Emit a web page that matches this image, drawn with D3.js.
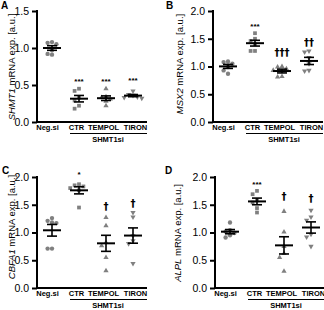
<!DOCTYPE html>
<html><head><meta charset="utf-8">
<script src="https://cdn.jsdelivr.net/npm/d3@7"></script>
<style>body{margin:0;background:#fff}svg{display:block}</style>
</head><body>
<svg id="chart" width="324" height="310"></svg>
<script>
// ---------- data ----------
const categories = ["Neg.si", "CTR", "TEMPOL", "TIRON"];
const groupLabel = "SHMT1si";
const panelLetters = ["A", "B", "C", "D"];
const genes = ["SHMT1", "MSX2", "CBFA1", "ALPL"];
const yTitleSuffix = " mRNA exp. [a.u.]";
const yTicksA = [0, 0.5, 1.0, 1.5];
const yTickLabelsA = ["0.0", "0.5", "1.0", "1.5"];
const yTicksBCD = [0, 0.5, 1.0, 1.5, 2.0];
const yTickLabelsBCD = ["0.0", "0.5", "1.0", "1.5", "2.0"];

const shmt1Values = [
  [1.08, 1.07, 1.05, 0.97, 0.92, 0.91],
  [0.45, 0.42, 0.33, 0.29, 0.22, 0.18],
  [0.45, 0.34, 0.33, 0.31, 0.28, 0.22],
  [0.42, 0.37, 0.36, 0.34, 0.33, 0.32]
];
const msx2Values = [
  [1.09, 1.08, 1.05, 0.99, 0.93, 0.87],
  [1.60, 1.50, 1.46, 1.40, 1.28, 1.28],
  [1.00, 0.99, 0.96, 0.93, 0.82, 0.81],
  [1.28, 1.26, 1.16, 1.05, 0.93, 0.92]
];
const cbfa1Values = [
  [1.26, 1.21, 1.18, 1.17, 0.71, 0.71],
  [1.87, 1.85, 1.83, 1.80, 1.76, 1.45],
  [1.27, 1.12, 0.82, 0.76, 0.55, 0.31],
  [1.36, 1.28, 0.94, 0.85, 0.80, 0.44]
];
const alplValues = [
  [1.18, 1.04, 1.02, 0.99, 0.95, 0.91],
  [1.75, 1.69, 1.58, 1.54, 1.44, 1.36],
  [1.38, 1.01, 0.75, 0.62, 0.55, 0.30],
  [1.40, 1.28, 1.22, 0.97, 0.92, 0.75]
];
const sigMarks = [
  ["", "***", "***", "***"],
  ["", "***", "†††", "††"],
  ["", "*", "†", "†"],
  ["", "***", "†", "†"]
];
// height (in data units) at which each annotation is centred
const sigLevels = [
  [null, 0.57, 0.57, 0.59],
  [null, 1.75, 1.24, 1.42],
  [null, 2.09, 1.46, 1.52],
  [null, 1.90, 1.64, 1.61]
];

// ---------- layout ----------
const font = "'Liberation Sans', Arial, Helvetica, sans-serif";
const daggerFont = "'DejaVu Sans', sans-serif";
const panels = [
  { values: shmt1Values, ox: 37,  top: 11,  bottom: 122, ymax: 1.5, ticks: yTicksA,   tickLabels: yTickLabelsA,   letterX: 1,   letterY: 9,   titleX: 12,  titleY: 67 },
  { values: msx2Values,  ox: 213, top: 11,  bottom: 122, ymax: 2.0, ticks: yTicksBCD, tickLabels: yTickLabelsBCD, letterX: 166, letterY: 9,   titleX: 180, titleY: 64 },
  { values: cbfa1Values, ox: 37,  top: 177, bottom: 288, ymax: 2.0, ticks: yTicksBCD, tickLabels: yTickLabelsBCD, letterX: 2,   letterY: 174, titleX: 12,  titleY: 227 },
  { values: alplValues,  ox: 215, top: 177, bottom: 288, ymax: 2.0, ticks: yTicksBCD, tickLabels: yTickLabelsBCD, letterX: 165, letterY: 174, titleX: 178, titleY: 233 }
];
const axisW = 110;
const labelDx = [-5, -3, -3, 2];
const symbolTypes = [d3.symbolCircle, d3.symbolSquare, d3.symbolTriangle, d3.symbolTriangle];
const symbolRot = [0, 0, 0, 180];
const symbolSize = [15, 14, 12, 12];
const pointColor = "#808080";

const svg = d3.select("#chart");

function beeswarm(ys, d) {
  const placed = [];
  const offs = [];
  ys.forEach(yv => {
    let off = 0;
    const cand = [0];
    for (let i = 1; i < 8; i++) { cand.push(-i * d, i * d); }
    for (const c of cand) {
      const ok = placed.every(p => Math.hypot(p.x - c, p.y - yv) >= d);
      if (ok) { off = c; break; }
    }
    placed.push({ x: off, y: yv });
    offs.push(off);
  });
  return offs;
}

panels.forEach((p, pi) => {
  const g = svg.append("g");
  const y = d3.scaleLinear().domain([0, p.ymax]).range([p.bottom, p.top]);
  const x = d3.scalePoint().domain(categories).range([p.ox + 15, p.ox + 96]);

  // y axis
  const yAxis = d3.axisLeft(y).tickValues(p.ticks)
    .tickFormat((d, i) => p.tickLabels[i])
    .tickSize(5).tickPadding(3).tickSizeOuter(0);
  const ya = g.append("g").attr("transform", `translate(${p.ox},0)`).call(yAxis);
  ya.select(".domain").attr("stroke", "#000").attr("stroke-width", 2)
    .attr("d", `M0,${p.bottom + 1}V${p.top - 1}`);
  ya.selectAll(".tick line").attr("stroke", "#000").attr("stroke-width", 2);
  ya.selectAll(".tick text").attr("font-size", 10.5).attr("font-family", font).attr("fill", "#000");

  // x axis
  const xAxis = d3.axisBottom(x).tickSize(0).tickPadding(3);
  const xa = g.append("g").attr("transform", `translate(0,${p.bottom})`).call(xAxis);
  xa.select(".domain").attr("stroke", "#000").attr("stroke-width", 2)
    .attr("d", `M${p.ox - 1},0H${p.ox + axisW}`);
  xa.selectAll(".tick text").attr("font-size", 7.5).attr("font-family", font)
    .attr("font-weight", "bold").attr("fill", "#000")
    .attr("dx", (d, i) => labelDx[i]);

  // group bracket
  g.append("line").attr("x1", p.ox + 33).attr("x2", p.ox + axisW)
    .attr("y1", p.bottom + 11.5).attr("y2", p.bottom + 11.5)
    .attr("stroke", "#000").attr("stroke-width", 1);
  g.append("text").attr("x", p.ox + 71).attr("y", p.bottom + 19.5)
    .attr("text-anchor", "middle").attr("font-size", 7.5).attr("font-family", font)
    .attr("font-weight", "bold").attr("fill", "#000").text(groupLabel);

  // y title
  const t = g.append("text")
    .attr("transform", `translate(${p.titleX},${p.titleY}) rotate(-90)`)
    .attr("text-anchor", "middle").attr("dy", "0.35em")
    .attr("font-size", 9.5).attr("font-family", font).attr("fill", "#000");
  t.append("tspan").attr("font-style", "italic").text(genes[pi]);
  t.append("tspan").text(yTitleSuffix);

  // letter
  g.append("text").attr("x", p.letterX).attr("y", p.letterY)
    .attr("font-size", 10).attr("font-weight", "bold").attr("font-family", font)
    .attr("fill", "#000").text(panelLetters[pi]);

  // groups
  categories.forEach((c, ci) => {
    const vals = p.values[ci];
    const cx = x(c);
    const ys = vals.map(v => y(v));
    const offs = beeswarm(ys, 4.4);
    const sym = d3.symbol().type(symbolTypes[ci]).size(symbolSize[ci]);
    g.selectAll(null).data(vals).join("path")
      .attr("d", sym)
      .attr("transform", (v, i) => `translate(${cx + offs[i]},${y(v)}) rotate(${symbolRot[ci]})`)
      .attr("fill", pointColor);

    const m = d3.mean(vals);
    const sem = d3.deviation(vals) / Math.sqrt(vals.length);
    g.append("line").attr("x1", cx - 9).attr("x2", cx + 9)
      .attr("y1", y(m)).attr("y2", y(m)).attr("stroke", "#000").attr("stroke-width", 2);
    g.append("line").attr("x1", cx).attr("x2", cx)
      .attr("y1", y(m - sem)).attr("y2", y(m + sem)).attr("stroke", "#000").attr("stroke-width", 1.6);
    [m - sem, m + sem].forEach(v => {
      g.append("line").attr("x1", cx - 5).attr("x2", cx + 5)
        .attr("y1", y(v)).attr("y2", y(v)).attr("stroke", "#000").attr("stroke-width", 1.6);
    });

    const mark = sigMarks[pi][ci];
    if (mark) {
      const isStar = mark.includes("*");
      const fs = isStar ? 8 : 10;
      const base = y(sigLevels[pi][ci]) + (isStar ? 0.57 * fs : 0.3 * fs);
      g.append("text").attr("x", cx).attr("y", base).attr("text-anchor", "middle")
        .attr("font-size", fs).attr("font-weight", "bold")
        .attr("font-family", isStar ? font : daggerFont)
        .attr("opacity", 0.999)
        .attr("fill", "#000").text(mark);
    }
  });
});
</script>
</body></html>
